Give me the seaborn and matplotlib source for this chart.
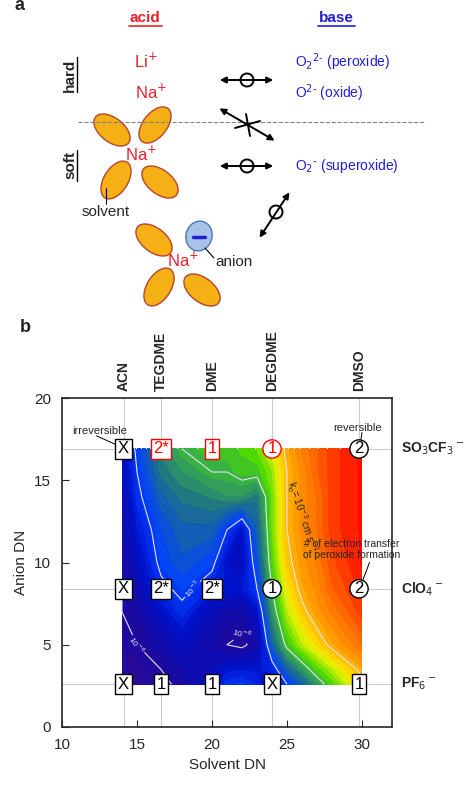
import numpy as np
import pandas as pd
import seaborn as sns
import matplotlib.pyplot as plt
from matplotlib.patches import Ellipse, Circle
from matplotlib.colors import LinearSegmentedColormap

sns.set_style("ticks")
plt.rcParams['font.family'] = ['Liberation Sans', 'DejaVu Sans']

# solvents (donor numbers) and anions (donor numbers)
solvents = ['ACN', 'TEGDME', 'DME', 'DEGDME', 'DMSO']
solvent_dn = [14.1, 16.6, 20.0, 24.0, 29.8]
anions = [r'SO$_3$CF$_3$$^-$', r'ClO$_4$$^-$', r'PF$_6$$^-$']
anion_dn = [16.9, 8.4, 2.6]

# number of electron transfer labels, rows follow anions, cols follow solvents
labels = [['X', '2*', '1', '1', '2'],
          ['X', '2*', '2*', '1', '2'],
          ['X', '1', '1', 'X', '1']]
shapes = [['s', 's', 's', 'o', 'o'],
          ['s', 's', 's', 'o', 'o'],
          ['s', 's', 's', 's', 's']]
colors = [['k', 'r', 'r', 'r', 'k'],
          ['k', 'k', 'k', 'k', 'k'],
          ['k', 'k', 'k', 'k', 'k']]

# log10(k0)
grid_x = [14, 15, 16.6, 18, 20, 21, 22, 23, 24, 25, 26, 27, 28, 30]
grid_y = [2.6, 3.5, 5, 7, 8.4, 10, 12, 14, 15.5, 16.9]
log_k0 = np.array([
    # y=2.6
    [-6.3, -6.3, -6.1, -5.9, -5.4, -5.1, -5.0, -5.2, -5.5, -5.0, -4.6, -4.2, -3.8, -3.1],
    # y=3.5
    [-6.2, -6.2, -6.0, -5.8, -5.6, -5.3, -5.3, -5.3, -5.2, -4.6, -4.2, -3.8, -3.5, -2.9],
    # y=5
    [-6.1, -6.0, -5.8, -5.5, -5.8, -6.0, -6.1, -5.8, -4.6, -3.9, -3.5, -3.2, -2.9, -2.5],
    # y=7
    [-6.0, -5.9, -5.4, -5.1, -5.6, -5.8, -5.8, -5.4, -4.2, -3.5, -3.1, -2.8, -2.6, -2.2],
    # y=8.4
    [-6.0, -5.7, -5.1, -4.9, -5.2, -5.3, -5.3, -5.0, -4.0, -3.3, -2.9, -2.7, -2.4, -2.1],
    # y=10
    [-5.9, -5.5, -4.9, -4.7, -4.9, -5.4, -5.5, -4.8, -3.8, -3.1, -2.8, -2.6, -2.3, -2.0],
    # y=12
    [-5.8, -5.3, -4.8, -4.6, -4.6, -5.0, -5.4, -4.6, -3.7, -3.0, -2.7, -2.5, -2.2, -2.0],
    # y=14
    [-5.7, -5.1, -4.6, -4.4, -4.3, -4.2, -4.2, -4.4, -3.7, -3.0, -2.7, -2.5, -2.2, -2.0],
    # y=15.5
    [-5.6, -5.0, -4.4, -4.2, -4.0, -4.0, -3.9, -3.9, -3.6, -3.0, -2.7, -2.4, -2.2, -2.0],
    # y=16.9
    [-5.6, -4.9, -4.3, -4.0, -3.9, -3.9, -3.8, -3.7, -3.4, -2.9, -2.6, -2.4, -2.2, -2.0],
])

fig = plt.figure(figsize=(4.74, 7.90), dpi=100)

# ---------------- panel a (schematic, pixel coords) ----------------
axa = fig.add_axes([0, 1 - 310 / 790, 1, 310 / 790])
axa.set_xlim(0, 474)
axa.set_ylim(310, 0)
axa.axis('off')

red = '#e8202a'
blue = '#2020d0'
axa.text(15, 6, 'a', fontsize=13, fontweight='bold', va='center')
axa.text(145, 18, 'acid', color=red, fontsize=11, fontweight='bold', ha='center', va='center')
axa.plot([129, 162], [26, 26], color=red, lw=1.2)
axa.text(336, 18, 'base', color=blue, fontsize=11, fontweight='bold', ha='center', va='center')
axa.plot([318, 355], [26, 26], color=blue, lw=1.2)

axa.text(70, 75, 'hard', rotation=90, fontsize=11, fontweight='bold', ha='center', va='center')
axa.plot([77, 77], [57, 92], color='k', lw=1)
axa.text(70, 165, 'soft', rotation=90, fontsize=11, fontweight='bold', ha='center', va='center')
axa.plot([77, 77], [150, 181], color='k', lw=1)

axa.text(146, 61, r'Li$^{+}$', color=red, fontsize=12, ha='center', va='center')
axa.text(151, 92, r'Na$^{+}$', color=red, fontsize=12, ha='center', va='center')

axa.text(295, 62, r'O$_2$$^{2\text{-}}$ (peroxide)', color=blue, fontsize=10, va='center')
axa.text(295, 93, r'O$^{2\text{-}}$ (oxide)', color=blue, fontsize=10, va='center')
axa.text(295, 166, r'O$_2$$^{\text{-}}$ (superoxide)', color=blue, fontsize=10, va='center')

axa.plot([78, 425], [122, 122], ls='--', color='grey', lw=0.8)

arrow = dict(arrowstyle='<|-|>', color='k', lw=1.4, mutation_scale=9)
for y in [80, 166]:
    axa.annotate('', xy=(276, y), xytext=(217, y), arrowprops=arrow)
    axa.add_patch(Circle((247, y), 6.5, fill=False, lw=1.4, ec='k'))
axa.annotate('', xy=(277, 142), xytext=(217, 107), arrowprops=arrow)
axa.plot([246, 250], [114, 136], color='k', lw=1.4)
axa.plot([235, 260], [128, 121], color='k', lw=1.4)
axa.annotate('', xy=(291, 190), xytext=(258, 240), arrowprops=arrow)
axa.add_patch(Circle((276, 212), 6.5, fill=False, lw=1.4, ec='k'))

fill = '#f5b015'
edge = '#b5452e'
cluster1 = [(112, 130, 38), (155, 125, -52), (116, 180, -58), (160, 182, 38)]
cluster2 = [(154, 240, 38), (159, 287, -58), (202, 290, 38)]
for cx, cy, ang in cluster1 + cluster2:
    axa.add_patch(Ellipse((cx, cy), 42, 24, angle=ang, fc=fill, ec=edge, lw=1))
axa.add_patch(Ellipse((199, 236), 26, 30, angle=15, fc='#a9c3e6', ec='#4a78b8', lw=1))
axa.plot([193, 205], [237, 237], color=blue, lw=2.5)
axa.text(141, 154, r'Na$^{+}$', color=red, fontsize=12, ha='center', va='center')
axa.text(183, 260, r'Na$^{+}$', color=red, fontsize=12, ha='center', va='center')
axa.plot([106, 106], [188, 204], color='k', lw=0.8)
axa.text(106, 212, 'solvent', fontsize=11, ha='center', va='center')
axa.plot([205, 214], [248, 258], color='k', lw=0.8)
axa.text(215, 262, 'anion', fontsize=11, va='center')

# ---------------- panel b ----------------
ax = fig.add_axes([62 / 474, 63 / 790, 330 / 474, 329 / 790])
fig.text(20 / 474, 1 - 328 / 790, 'b', fontsize=13, fontweight='bold', va='center')

cmap = LinearSegmentedColormap.from_list('k0', [
    (0.0, '#3c0a8f'), (0.14, '#1a0aa0'), (0.26, '#0010c8'), (0.36, '#0040ff'),
    (0.46, '#1d6f8a'), (0.55, '#38b048'), (0.60, '#48d800'), (0.68, '#d8f000'),
    (0.72, '#ffe000'), (0.80, '#ffa000'), (0.90, '#ff6000'), (1.0, '#ff0000')])
X, Y = np.meshgrid(grid_x, grid_y)
ax.contourf(X, Y, log_k0, levels=np.linspace(-6.6, -1.9, 40), cmap=cmap, zorder=1)
cs = ax.contour(X, Y, log_k0, levels=[-6, -5, -4, -3], colors='#e8e0f0',
                linewidths=0.8, linestyles='solid', zorder=2)
ax.clabel(cs, levels=[-6, -5, -4], fmt={-6: r'10$^{-6}$', -5: r'10$^{-5}$', -4: r'10$^{-4}$'},
          fontsize=6)
ax.text(26.0, 12.8, r'k$_o$= 10$^{-3}$ cm s$^{-1}$', rotation=-72, fontsize=7,
        ha='center', va='center', zorder=3)

ax.set_xlim(10, 32)
ax.set_ylim(0, 20)
ax.set_xticks([10, 15, 20, 25, 30])
ax.set_yticks([0, 5, 10, 15, 20])
ax.tick_params(labelsize=11, direction='in', length=5, pad=8)
ax.set_xlabel('Solvent DN', fontsize=11)
ax.set_ylabel('Anion DN', fontsize=11)
for s in ax.spines.values():
    s.set_linewidth(1.2)

for x in solvent_dn:
    ax.axvline(x, color='#cccccc', lw=0.8, zorder=0.5)
for y in anion_dn:
    ax.axhline(y, color='#cccccc', lw=0.8, zorder=0.5)

for name, x in zip(solvents, solvent_dn):
    ax.text(x, 20.4, name, rotation=90, fontsize=10, fontweight='bold', ha='center', va='bottom')
for name, y in zip(anions, anion_dn):
    ax.text(32.6, y, name, fontsize=10, fontweight='bold', va='center')

for i, y in enumerate(anion_dn):
    for j, x in enumerate(solvent_dn):
        box = 'square,pad=0.15' if shapes[i][j] == 's' else 'circle,pad=0.1'
        ax.text(x, y, labels[i][j], color=colors[i][j], fontsize=12, ha='center', va='center',
                zorder=4, bbox=dict(boxstyle=box, fc='white', ec=colors[i][j], lw=1))

ax.text(12.5, 18.0, 'irreversible', fontsize=8, ha='center', va='center')
ax.plot([12.3, 14.0], [17.7, 17.0], color='k', lw=0.7)
ax.text(29.7, 18.2, 'reversible', fontsize=8, ha='center', va='center')
ax.plot([30.0, 29.9], [17.9, 17.3], color='k', lw=0.7)
ax.text(29.3, 10.8, '# of electron transfer\nof peroxide formation', fontsize=7.5,
        ha='center', va='center', zorder=3)
ax.plot([30.5, 30.0], [10.0, 8.8], color='k', lw=0.7, zorder=3)

fig.savefig('out.png', dpi=100)
